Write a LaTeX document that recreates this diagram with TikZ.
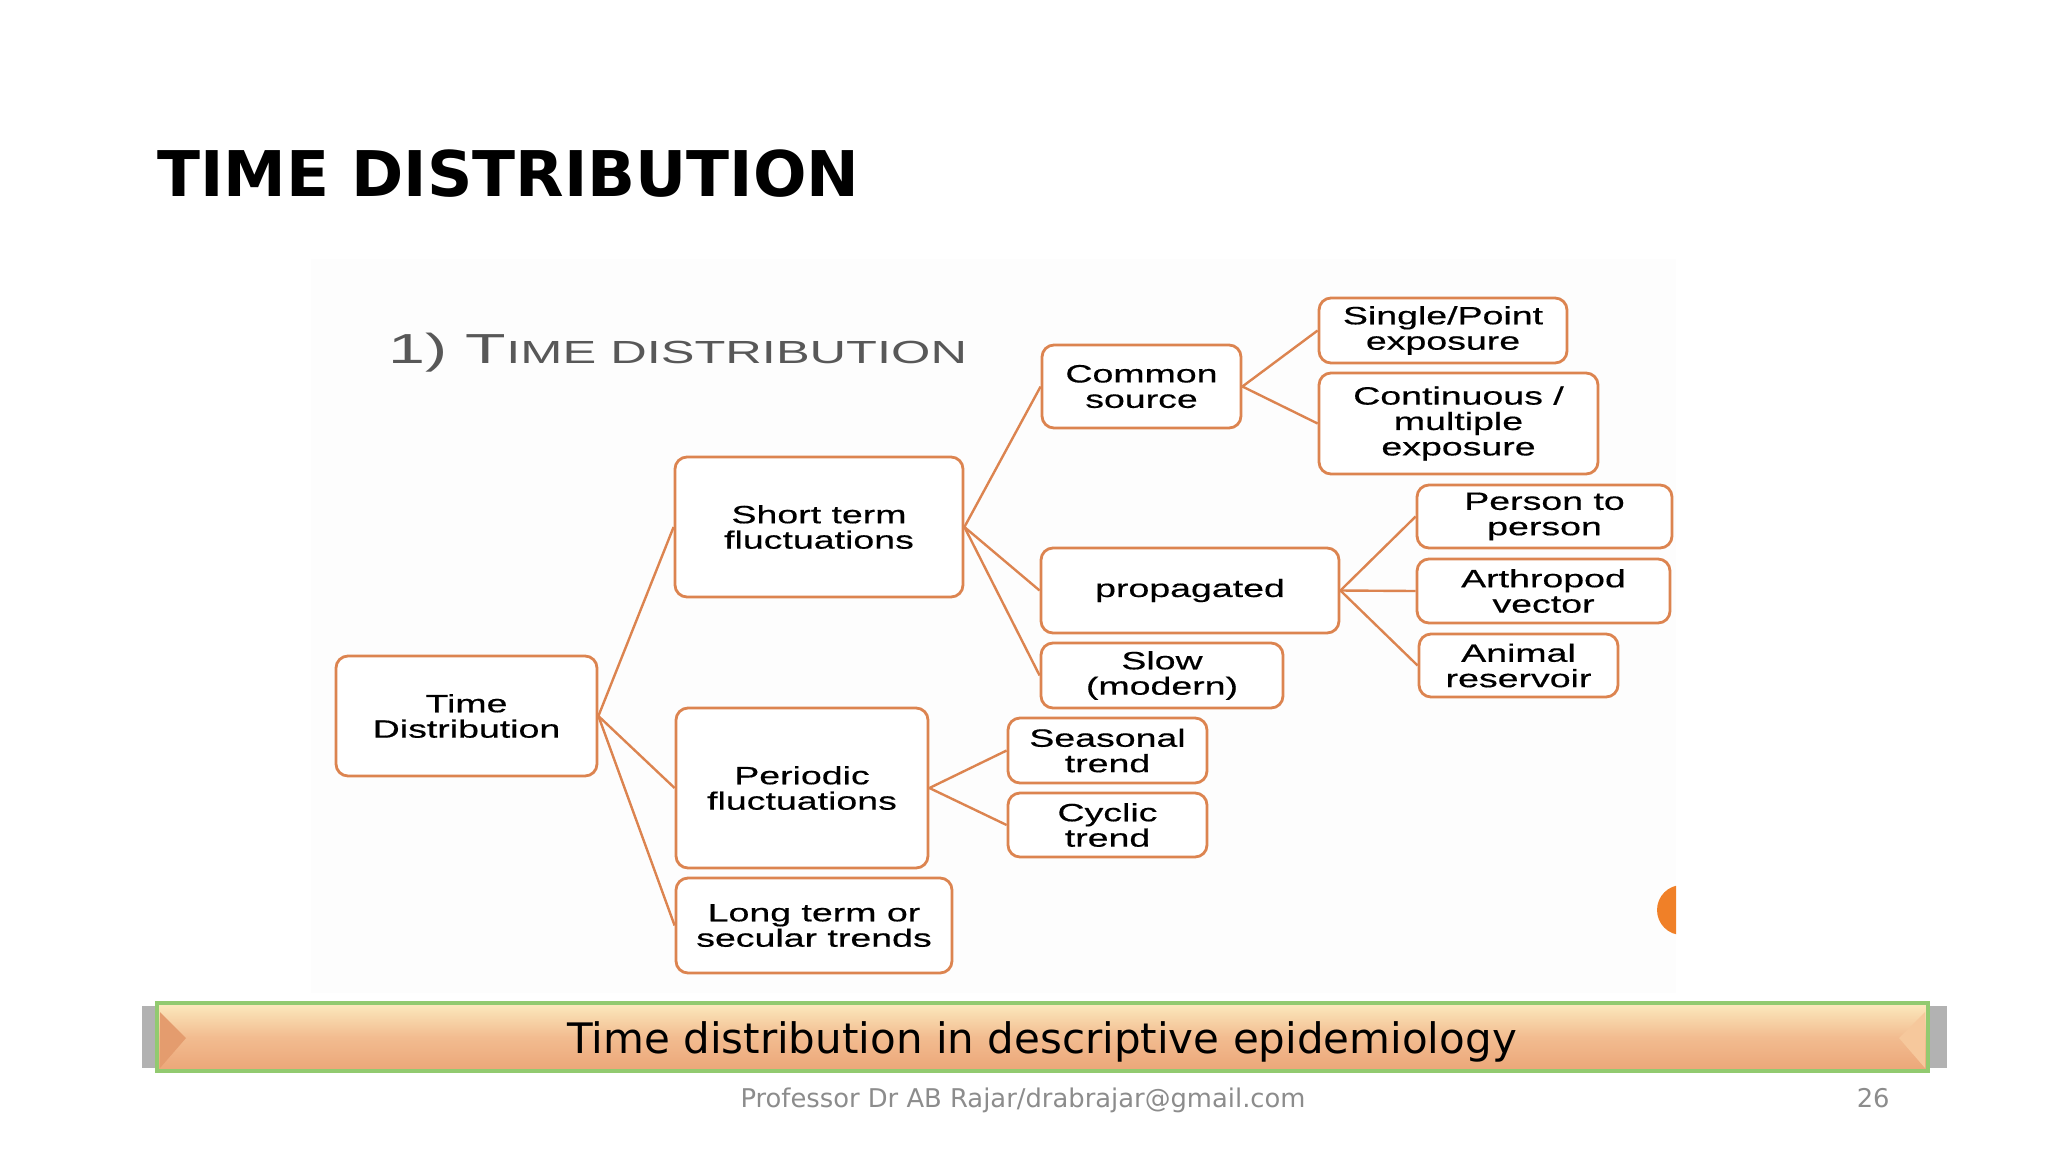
\documentclass[tikz,border=0pt]{standalone}
\usepackage{fontspec}
\setmainfont{DejaVu Sans}
\newfontfamily\boxfont[FakeStretch=1.5, FakeBold=0.5]{Liberation Sans}
\newfontfamily\capfont[FakeStretch=1.58]{Liberation Sans}
\usepackage{xcolor}
\usetikzlibrary{positioning, calc}

\definecolor{boxline}{RGB}{220,132,80}
\definecolor{capgray}{RGB}{88,88,88}
\definecolor{footgray}{RGB}{140,140,140}
\definecolor{figback}{RGB}{253,253,253}
\definecolor{bandtop}{RGB}{252,234,190}
\definecolor{bandmid}{RGB}{242,188,144}
\definecolor{bandbot}{RGB}{236,166,120}
\definecolor{bandedge}{RGB}{146,202,112}
\definecolor{banddark}{RGB}{228,156,110}
\definecolor{bandlight}{RGB}{246,200,156}
\definecolor{dotorange}{RGB}{240,128,40}

\tikzset{
  tbox/.style={draw=boxline, line width=1.4pt, rounded corners=6pt, fill=white,
    align=center, inner sep=0pt, font={\boxfont\fontsize{12.5}{12.7}\selectfont}},
  boxsize/.style 2 args={minimum width={#1*0.5pt}, minimum height={#2*0.5pt}},
  link/.style={draw=boxline, line width=1.2pt},
}

\begin{document}
\begin{tikzpicture}[x=0.5pt, y=-0.5pt]
        \useasboundingbox (0,0) rectangle (2048,1152);
        % slide heading
        \node[anchor=base west, inner sep=0pt, font={\bfseries\fontsize{31.5}{36}\selectfont}] (heading) at (157,196) {TIME DISTRIBUTION};
        % pasted figure
        \fill[figback] (311,259) rectangle (1676,993);
        \node[anchor=base west, inner sep=0pt, text=capgray] (figtitle) at (388,363) {\capfont\fontsize{21}{21}\selectfont 1) T\fontsize{16}{16}\selectfont IME DISTRIBUTION};

        \node[tbox, boxsize={261}{120}] (tdist) at (466.5,716) {Time\\Distribution};
        \node[tbox, boxsize={288}{140}] (short) at (819,527) {Short term\\fluctuations};
        \node[tbox, boxsize={252}{160}] (periodic) at (802,788) {Periodic\\fluctuations};
        \node[tbox, boxsize={276}{95}] (secular) at (814,925.5) {Long term or\\secular trends};
        \node[tbox, boxsize={199}{83}] (common) at (1141.5,386.5) {Common\\source};
        \node[tbox, boxsize={298}{85}] (propag) at (1190,590.5) {propagated};
        \node[tbox, boxsize={242}{65}] (slow) at (1162,675.5) {Slow\\(modern)};
        \node[tbox, boxsize={248}{65}] (single) at (1443,330.5) {Single/Point\\exposure};
        \node[tbox, boxsize={279}{101}] (contin) at (1458.5,423.5) {Continuous /\\multiple\\exposure};
        \node[tbox, boxsize={255}{63}] (person) at (1544.5,516.5) {Person to\\person};
        \node[tbox, boxsize={253}{64}] (arthro) at (1543.5,591) {Arthropod\\vector};
        \node[tbox, boxsize={199}{63}] (animal) at (1518.5,665.5) {Animal\\reservoir};
        \node[tbox, boxsize={199}{65}] (seasonal) at (1107.5,750.5) {Seasonal\\trend};
        \node[tbox, boxsize={199}{64}] (cyclic) at (1107.5,825) {Cyclic\\trend};

        \draw[link] (tdist.east) -- (short.west);
        \draw[link] (tdist.east) -- (periodic.west);
        \draw[link] (tdist.east) -- (secular.west);
        \draw[link] (short.east) -- (common.west);
        \draw[link] (short.east) -- (propag.west);
        \draw[link] (short.east) -- (slow.west);
        \draw[link] (common.east) -- (single.west);
        \draw[link] (common.east) -- (contin.west);
        \draw[link] (propag.east) -- (person.west);
        \draw[link] (propag.east) -- (arthro.west);
        \draw[link] (propag.east) -- (animal.west);
        \draw[link] (periodic.east) -- (seasonal.west);
        \draw[link] (periodic.east) -- (cyclic.west);

        % cut-off dot at the figure edge
        \begin{scope}
            \clip (1600,850) rectangle (1676,960);
            \fill[dotorange] (1682,910) circle (12.5pt);
        \end{scope}

        % caption band
        \fill[gray!60] (142,1006) rectangle (1947,1068);
        \shade[top color=bandtop, bottom color=bandbot, middle color=bandmid] (157,1003) rectangle (1928,1071);
        \fill[banddark] (160,1012) -- (186,1038) -- (160,1068) -- cycle;
        \fill[bandlight] (1925,1012) -- (1899,1038) -- (1925,1068) -- cycle;
        \draw[bandedge, line width=2pt] (157,1003) rectangle (1928,1071);
        \node[anchor=base, inner sep=0pt, font={\fontsize{21}{24}\selectfont}] (caption) at (1042,1053) {Time distribution in descriptive epidemiology};

        % footer
        \node[anchor=base, inner sep=0pt, text=footgray, font={\fontsize{12.9}{15}\selectfont}] (footer) at (1023,1107) {Professor Dr AB Rajar/drabrajar@gmail.com};
        \node[anchor=base east, inner sep=0pt, text=footgray, font={\fontsize{12.9}{15}\selectfont}] (pagenum) at (1890,1107) {26};
    \end{tikzpicture}
\end{document}
